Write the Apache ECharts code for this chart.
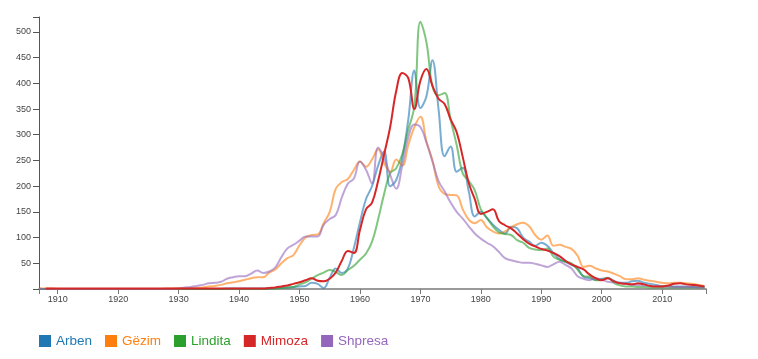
<!DOCTYPE html>
<html><head><meta charset="utf-8">
<script src="https://cdn.jsdelivr.net/npm/echarts@6/dist/echarts.min.js"></script>
<style>html,body{margin:0;padding:0;background:#fff}#c{width:758px;height:359px}</style>
</head><body><div id="c"></div>
<script>
const years = [1907,1908,1909,
1910,1911,1912,1913,1914,1915,1916,1917,1918,1919,
1920,1921,1922,1923,1924,1925,1926,1927,1928,1929,
1930,1931,1932,1933,1934,1935,1936,1937,1938,1939,
1940,1941,1942,1943,1944,1945,1946,1947,1948,1949,
1950,1951,1952,1953,1954,1955,1956,1957,1958,1959,
1960,1961,1962,1963,1964,1965,1966,1967,1968,1969,
1970,1971,1972,1973,1974,1975,1976,1977,1978,1979,
1980,1981,1982,1983,1984,1985,1986,1987,1988,1989,
1990,1991,1992,1993,1994,1995,1996,1997,1998,1999,
2000,2001,2002,2003,2004,2005,2006,2007,2008,2009,
2010,2011,2012,2013,2014,2015,2016,2017];

const arben = [0,0,0,
0,0,0,0,0,0,0,0,0,0,
0,0,0,0,0,0,0,0,0,0,
0,0,0,0,0,0,0,0,1,1,
1,1,1,1,1,1,2,3,3,4,
5,6,12,10,2,22,40,31,40,80,
130,175,200,240,268,200,212,255,330,425,
352,375,445,350,258,277,228,236,190,141,
150,138,125,115,108,121,118,100,92,84,
90,84,70,58,53,47,40,24,21,18,
20,21,16,12,12,15,16,12,10,8,
6,6,5,5,5,4,4,4];

const gezim = [2,1,1,
0,0,0,0,0,0,0,0,0,0,
0,0,0,0,0,0,0,0,1,1,
1,1,2,2,3,5,6,8,11,13,
15,18,21,23,23,32,38,50,60,66,
85,100,105,106,128,150,195,208,214,232,
248,238,252,272,245,228,252,240,280,315,
335,287,250,200,185,183,182,155,135,128,
134,120,112,108,112,120,126,129,122,105,
96,104,84,86,82,78,65,43,45,40,
36,34,30,25,19,19,21,18,16,14,
12,11,12,12,11,10,8,6];

const lindita = [0,0,0,
0,0,0,0,0,0,0,0,0,0,
0,0,0,0,0,0,0,0,0,0,
0,0,0,0,0,0,0,0,0,0,
0,0,0,0,0,1,1,2,3,4,
9,13,20,27,32,37,33,27,37,45,
57,69,92,135,185,225,235,262,310,355,
520,480,394,377,381,329,280,225,210,192,
155,138,122,110,107,105,95,90,80,77,
76,79,63,57,53,50,38,25,24,17,
18,22,12,7,5,5,4,4,3,3,
3,3,3,3,3,3,3,3];

const mimoza = [null,1,1,
1,1,1,1,1,1,1,1,1,1,
1,1,1,1,1,1,1,1,1,1,
1,1,1,1,1,1,1,1,1,1,
1,1,1,1,1,2,3,5,7,10,
13,17,21,16,15,20,32,55,74,70,
115,155,168,210,262,315,385,420,410,350,
405,428,395,370,360,330,305,257,206,175,
146,150,155,132,124,118,108,97,88,83,
78,75,70,64,55,48,43,38,28,21,
17,21,15,11,10,9,11,9,6,5,
5,7,10,11,9,8,7,5];

const shpresa = [0,0,0,
0,0,0,0,0,0,0,0,0,0,
0,0,0,0,0,0,0,0,0,0,
1,3,4,6,8,11,12,14,20,23,
25,25,30,36,31,34,42,62,79,86,
94,102,102,102,125,136,144,178,205,215,
248,232,205,275,255,222,195,240,295,320,
315,285,248,210,190,168,150,137,122,108,
98,90,83,72,60,56,53,51,51,49,
46,43,48,53,47,40,25,20,17,21,
18,14,13,12,10,8,8,7,6,6,
5,5,4,4,4,4,3,3];

const names = ['Arben','Gëzim','Lindita','Mimoza','Shpresa'];
const colors = ['#1f77b4','#ff7f0e','#2ca02c','#d62728','#9467bd'];
const values = [arben, gezim, lindita, mimoza, shpresa];
const xTicks = [1910,1920,1930,1940,1950,1960,1970,1980,1990,2000,2010];
const yTicks = [50,100,150,200,250,300,350,400,450,500];

const FONT = 'Liberation Sans, Arial, sans-serif';
const xMin = 1906.9, xMax = 2017.25, yMax = 529;

const chart = echarts.init(document.getElementById('c'), null, {renderer:'canvas'});
chart.setOption({
  animation: false,
  backgroundColor: '#fff',
  grid: {left: 39, right: 52, top: 17, bottom: 70, containLabel: false},
  legend: {
    left: 39, top: 334, padding: 0, icon: 'rect', itemWidth: 12, itemHeight: 12, itemGap: 13,
    selectedMode: false,
    data: names.map((n, i) => ({name: n, itemStyle: {color: colors[i], opacity: 1},
      textStyle: {color: colors[i], fontSize: 13.5, fontFamily: FONT}}))
  },
  xAxis: {
    type: 'value', min: xMin, max: xMax,
    axisLine: {show: true, lineStyle: {color: '#9a9a9a', width: 2}},
    axisTick: {show: true, length: 5, lineStyle: {color: '#777'},
      customValues: [xMin].concat(xTicks, [xMax])},
    axisLabel: {customValues: xTicks, fontSize: 9, color: '#444', fontFamily: FONT, margin: 6,
      formatter: v => String(v)},
    splitLine: {show: false}
  },
  yAxis: {
    type: 'value', min: 0, max: yMax,
    axisLine: {show: true, lineStyle: {color: '#555', width: 1}},
    axisTick: {show: true, length: 6, lineStyle: {color: '#555'},
      customValues: [0].concat(yTicks, [yMax])},
    axisLabel: {customValues: yTicks, fontSize: 9, color: '#444', fontFamily: FONT, margin: 8,
      formatter: v => String(v)},
    splitLine: {show: false}
  },
  series: names.map((n, i) => ({
    name: n, type: 'line', smooth: 0.4, symbol: 'none', connectNulls: false,
    z: n === 'Mimoza' ? 5 : 2,
    itemStyle: {color: colors[i]},
    lineStyle: {width: 2, color: colors[i], opacity: n === 'Mimoza' ? 1 : 0.6},
    emphasis: {disabled: true},
    data: years.map((y, k) => [y, values[i][k]])
  }))
});
</script>
</body></html>
